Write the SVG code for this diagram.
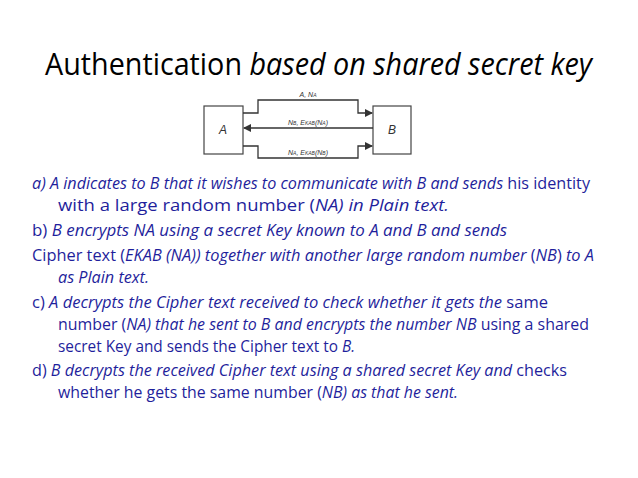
<svg xmlns="http://www.w3.org/2000/svg" width="638" height="478" viewBox="0 0 638 478">
<style>
.b{font-family:"Open Sans","Liberation Sans",sans-serif;font-size:16px;fill:#1f1f9c}
.i{font-style:italic}
.box{fill:#fff;stroke:#444;stroke-width:1.2}
.ln{fill:none;stroke:#333;stroke-width:1.3}
.lb{font-family:"Liberation Sans",sans-serif;font-size:7px;font-style:italic;fill:#333}
</style>
<defs><marker id="ar" markerWidth="8" markerHeight="8" refX="7" refY="4" orient="auto" markerUnits="userSpaceOnUse"><path d="M0,0 L8,4 L0,8 z" fill="#333"/></marker></defs>
<rect width="638" height="478" fill="#fff"/>
<text x="45" y="75" textLength="547" lengthAdjust="spacingAndGlyphs" style="font-family:'Open Sans','Liberation Sans',sans-serif;font-size:31px;fill:#000">Authentication <tspan class="i">based on shared secret key</tspan></text>
<g id="A"><rect class="box" x="204" y="106" width="39" height="48"/><text x="223" y="134" class="lb" style="font-size:12px" text-anchor="middle">A</text></g>
<g id="B"><rect class="box" x="373" y="106" width="38" height="48"/><text x="392" y="134" class="lb" style="font-size:12px" text-anchor="middle">B</text></g>
<g id="connectors">
<path class="ln" d="M243,113 H258 V100 H358 V113 H372" marker-end="url(#ar)"/>
<path class="ln" d="M373,128 H244" marker-end="url(#ar)"/>
<path class="ln" d="M243,146 H258 V158 H358 V146 H372" marker-end="url(#ar)"/>
<text class="lb" x="308" y="97" text-anchor="middle">A, N<tspan font-size="5">A</tspan></text>
<text class="lb" x="308" y="125" text-anchor="middle">N<tspan font-size="5">B</tspan>, E<tspan font-size="5">KAB</tspan>(N<tspan font-size="5">A</tspan>)</text>
<text class="lb" x="308" y="155" text-anchor="middle">N<tspan font-size="5">A</tspan>, E<tspan font-size="5">KAB</tspan>(N<tspan font-size="5">B</tspan>)</text>
</g>
<g class="b">
<text x="32" y="189" textLength="558" lengthAdjust="spacingAndGlyphs"><tspan class="i">a) A indicates to B that it wishes to communicate with B and sends</tspan> his identity</text>
<text x="58" y="211" textLength="391" lengthAdjust="spacingAndGlyphs">with a large random number (<tspan class="i">NA) in Plain text.</tspan></text>
<text x="32" y="236" textLength="475" lengthAdjust="spacingAndGlyphs">b) <tspan class="i">B encrypts NA using a secret Key known to A and B and sends</tspan></text>
<text x="32" y="261" textLength="562" lengthAdjust="spacingAndGlyphs">Cipher text (<tspan class="i">EKAB (NA)) together with another large random number</tspan> (<tspan class="i">NB</tspan>) <tspan class="i">to A</tspan></text>
<text x="58" y="283" textLength="91" lengthAdjust="spacingAndGlyphs" class="i">as Plain text.</text>
<text x="32" y="308" textLength="516" lengthAdjust="spacingAndGlyphs">c) <tspan class="i">A decrypts the Cipher text received to check whether it gets the</tspan> same</text>
<text x="58" y="330" textLength="531" lengthAdjust="spacingAndGlyphs">number (<tspan class="i">NA) that he sent to B and encrypts the number NB</tspan> using a shared</text>
<text x="58" y="352" textLength="297" lengthAdjust="spacingAndGlyphs">secret Key and sends the Cipher text to <tspan class="i">B.</tspan></text>
<text x="32" y="376" textLength="535" lengthAdjust="spacingAndGlyphs">d) <tspan class="i">B decrypts the received Cipher text using a shared secret Key and</tspan> checks</text>
<text x="58" y="398" textLength="400" lengthAdjust="spacingAndGlyphs">whether he gets the same number (<tspan class="i">NB) as that he sent.</tspan></text>
</g>
</svg>
